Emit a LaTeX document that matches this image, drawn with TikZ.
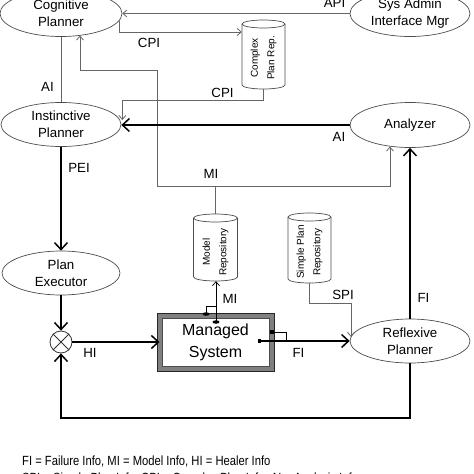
\documentclass[tikz,border=0pt]{standalone}
\usepackage{graphicx}
\usepackage{fontspec}
\setmainfont{Liberation Sans}
\usetikzlibrary{shapes.geometric,arrows.meta,calc}
\newcommand\mylabfont{\fontsize{13.3}{17}\selectfont}
\newcommand\mycylfont{\fontsize{10}{16.5}\selectfont}
\newcommand\mymsfont{\fontsize{16}{22}\selectfont}
\tikzset{
  ell/.style={ellipse, draw=black!70, line width=0.7pt, inner sep=0pt, align=center, font=\mylabfont},
  thinln/.style={draw=black!60, line width=0.8pt},
  thinarr/.style={thinln, -{Straight Barb[length=4pt,width=7pt]}},
  darkln/.style={draw=black, line width=0.7pt},
  darkarr/.style={darkln, -{Straight Barb[length=4pt,width=7pt]}},
  thickln/.style={draw=black, line width=1.5pt},
  thickarr/.style={thickln, -{Straight Barb[length=7pt,width=13pt]}},
  lbl/.style={font=\mylabfont, inner sep=0pt},
  cyl/.style={draw=black!70, line width=0.7pt},
  cyltxt/.style={rotate=90, align=center, font=\mycylfont, inner sep=0pt},
  anch/.style={rectangle, inner sep=0pt},
  sq/.style={rectangle, fill=black, minimum size=3.5pt, inner sep=0pt},
  blob/.style={ellipse, fill=black, minimum width=7pt, minimum height=3.5pt, inner sep=0pt},
}
\begin{document}
\begin{tikzpicture}[x=1pt,y=-1pt]
\useasboundingbox (0,0) rectangle (474,474);
\clip (0,0) rectangle (474,474);

% ellipses
\node[ell, minimum width=122pt, minimum height=46pt] (cog) at (61,13.5) {Cognitive\\Planner};
\node[ell, minimum width=120pt, minimum height=46pt] (sys) at (410,13.5) {Sys Admin\\Interface Mgr};
\node[ell, minimum width=120pt, minimum height=44pt] (inst) at (61,124.5) {Instinctive\\Planner};
\node[ell, minimum width=120pt, minimum height=45pt] (ana) at (410,125) {Analyzer};
\node[ell, minimum width=118pt, minimum height=44pt] (pe) at (61,273) {Plan\\Executor};
\node[ell, minimum width=120pt, minimum height=44pt] (refl) at (410,341) {Reflexive\\Planner};

% combiner
\node[circle, draw=black!80, line width=0.8pt, minimum size=22pt, inner sep=0pt] (ot) at (61,342) {};
\draw[black!80, line width=0.8pt] (ot.45) -- (ot.225) (ot.135) -- (ot.315);

% managed system
\node[draw=black!50, line width=5pt, outer sep=0pt, minimum width=112pt, minimum height=53pt, inner sep=0pt, font=\mymsfont, align=center] (ms) at (215.5,342) {Managed\\System};
\draw[line width=0.7pt, black!85] ([shift={(-2.5pt,2.5pt)}]ms.north west) rectangle ([shift={(2.5pt,-2.5pt)}]ms.south east);
\draw[line width=0.5pt, black!70] ([shift={(2.5pt,-2.5pt)}]ms.north west) rectangle ([shift={(-2.5pt,2.5pt)}]ms.south east);

% cylinders
\node[anch, minimum width=43pt, minimum height=69pt] (cpr) at (263.5,54.5) {};
\draw[cyl] (242,24) -- (242,85) arc[start angle=180,end angle=0,x radius=21.5,y radius=4] -- (285,24);
\draw[cyl] (263.5,24) ellipse [x radius=21.5,y radius=4];
\node[cyltxt] (cprt) at (263.5,58) {Complex\\Plan Rep.};

\node[anch, minimum width=44pt, minimum height=67pt] (mr) at (215.5,247.5) {};
\draw[cyl] (193.5,218) -- (193.5,277) arc[start angle=180,end angle=0,x radius=22,y radius=4] -- (237.5,218);
\draw[cyl] (215.5,218) ellipse [x radius=22,y radius=4];
\node[cyltxt] (mrt) at (215.5,252) {Model\\Repository};

\node[anch, minimum width=43pt, minimum height=70pt] (spr) at (309.5,248) {};
\draw[cyl] (288,217) -- (288,279) arc[start angle=180,end angle=0,x radius=21.5,y radius=4] -- (331,217);
\draw[cyl] (309.5,217) ellipse [x radius=21.5,y radius=4];
\node[cyltxt] (sprt) at (309.5,252) {Simple Plan\\Repository};

% helper coordinates
\coordinate (yCPI) at (0,32);
\coordinate (yC2) at (0,100);
\coordinate (mL) at (157,186);
\coordinate (mR) at (390,186);
\coordinate (kL) at (157,70);
\coordinate (kR) at (80,70);
\coordinate (y306) at (0,306);
\coordinate (ySP) at (0,303);
\coordinate (xS) at (351,0);
\coordinate (xK) at (286,0);
\coordinate (yB) at (0,418);

% small markers
\node[sq] (s1) at (272,332) {};
\node[sq] (s2) at (259.5,341) {};
\node[blob] (b1) at (216,322) {};
\node[blob] (b2) at (206,314) {};

% thin connectors
\draw[thinarr] (sys.west) -- (sys.west -| cog.east);
\draw[thinarr] (cog.-7) |- (cpr.west |- yCPI);
\draw[thinarr] (cpr.south) -- (cpr.south |- yC2) -| ([xshift=1pt,yshift=4.5pt]inst.east);
\draw[thinln] (cog.south) -- (inst.north);
\draw[thinarr] (mL) -- (kL) -- (kR) -- (kR |- cog.-47);
\draw[thinarr] (mL) -- (mR) -- (mR |- ana.227);
\draw[thinln] (mr.north) -- (mr.north |- mL);
\draw[thinarr] (spr.south) -- (spr.south |- ySP) -| (xS |- refl.176);
\draw[darkarr] (b1.center) -- (b1 |- mr.south);
\draw[darkln] (b2.center) -- (b2.center |- y306) -- (b1 |- y306);
\draw[darkln] (s1.center) -- (xK |- s1.center) -- (xK |- s2.center);

% thick connectors
\draw[thickarr] (ana.west) -- (ana.west -| inst.east);
\draw[thickarr] (inst.south) -- (pe.north);
\draw[thickarr] (pe.south) -- (ot.north);
\draw[thickarr] (ot.east) -- (ms.west);
\draw[thickarr] (s2.center) -- (s2.center -| refl.west);
\draw[thickarr] (refl.north) -- (ana.south);
\draw[thickarr] (refl.south) -- (refl.south |- yB) -| (ot.south);

% labels
\node[lbl] (lAPI) at (334.5,3) {API};
\node[lbl] (lCPI1) at (149,42.5) {CPI};
\node[lbl] (lCPI2) at (222.5,92.5) {CPI};
\node[lbl] (lAI1) at (47.5,86.5) {AI};
\node[lbl] (lAI2) at (339,136.5) {AI};
\node[lbl] (lPEI) at (79,167.5) {PEI};
\node[lbl] (lMI1) at (211,174) {MI};
\node[lbl] (lMI2) at (230,299) {MI};
\node[lbl] (lSPI) at (343,294.5) {SPI};
\node[lbl] (lFI1) at (423.5,298) {FI};
\node[lbl] (lHI) at (90,353) {HI};
\node[lbl] (lFI2) at (298.5,352.5) {FI};

% legend
\node[anchor=base west, inner sep=0pt, font=\mylabfont] (leg1) at (22,465) {\scalebox{0.845}[1]{FI = Failure Info, MI = Model Info, HI = Healer Info}};
\node[anchor=base west, inner sep=0pt, font=\mylabfont] (leg2) at (22,482) {\scalebox{0.845}[1]{SPI = Simple Plan Info, CPI = Complex Plan Info, AI = Analysis Info}};
\end{tikzpicture}
\end{document}
